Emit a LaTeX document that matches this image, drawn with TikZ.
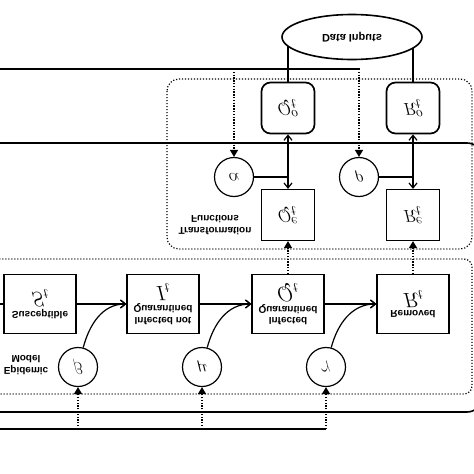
\documentclass[tikz,border=0pt]{standalone}
\usepackage{fontspec}
\setmainfont{Liberation Sans}
\usetikzlibrary{arrows.meta,shapes.geometric,backgrounds}
\tikzset{
  stage/.style={draw, line width=1.2pt, minimum width=72pt, minimum height=59pt, inner sep=1pt, align=center, font=\fontsize{10}{11.5}\selectfont\bfseries},
  estim/.style={draw, line width=1.2pt, minimum width=53pt, minimum height=51pt, font=\fontsize{19}{21}\selectfont},
  param/.style={draw, circle, line width=1.2pt, minimum size=39pt, inner sep=0pt, font=\fontsize{17}{19}\selectfont},
  grouplabel/.style={align=center, font=\fontsize{10}{11.5}\selectfont\bfseries},
  group/.style={line width=1.2pt, dash pattern=on 1.2pt off 1.8pt},
  flow/.style={line width=1.2pt, -{Straight Barb[length=5pt,width=8pt]}},
  twoway/.style={line width=1.2pt, {Straight Barb[length=5pt,width=8pt]}-{Straight Barb[length=5pt,width=8pt]}},
  feed/.style={line width=1.5pt, dash pattern=on 1.3pt off 1.5pt, -{Triangle[length=7pt,width=8pt]}},
}
\newcommand{\bigsym}[1]{{\fontsize{20}{22}\selectfont$#1$}}
\begin{document}
\begin{tikzpicture}[x=1pt, y=1pt, yscale=-1, every node/.append style={transform shape}]
\useasboundingbox (0,0) rectangle (474,474);
\clip (0,0) rectangle (474,474);
% frames
\draw[line width=1.6pt, rounded corners=15pt] (-20,143) rectangle (482,412);
\draw[group, rounded corners=12pt] (167,79) rectangle (472,249);
\draw[group, rounded corners=8pt] (-20,259) rectangle (472,394);
\node[grouplabel] (tflabel) at (215,225) {Transformation\\Functions};
\node[grouplabel] (emlabel) at (26,365) {Epidemic\\Model};

% data and observed series
\node[draw, ellipse, line width=1.6pt, fill=white, minimum width=140pt, minimum height=45pt, font=\fontsize{11}{13}\selectfont\bfseries] (data) at (352,37) {Data Inputs};
\node[estim, rounded corners=9pt, line width=1.7pt] (Qo) at (288,108) {$Q^o_t$};
\node[estim, rounded corners=9pt, line width=1.7pt] (Ro) at (413,108) {$R^o_t$};
\begin{scope}[on background layer]
\draw[line width=1.2pt] (Qo) -- (Qo |- data);
\draw[line width=1.2pt] (Ro) -- (Ro |- data);
\end{scope}

% transformation functions
\node[param] (alpha) at (234,177) {$\alpha$};
\node[param] (rho) at (359,177) {$\rho$};
\node[estim] (Qe) at (288,215) {$Q^e_t$};
\node[estim] (Re) at (413,215) {$R^e_t$};
\draw[twoway] (Qe) -- (Qo);
\draw[twoway] (Re) -- (Ro);
\draw[line width=1.2pt] (alpha) -- (alpha -| Qo);
\draw[line width=1.2pt] (rho) -- (rho -| Ro);

\coordinate (topin) at (-10,69);
\coordinate (topend) at (360,69);
\draw[line width=1.2pt] (topin) -- (topend);
\draw[feed] (topend -| alpha) -- (alpha);
\draw[feed] (topend -| rho) -- (rho);

% epidemic model
\node[stage] (S) at (40,304) {Susceptible\\[2pt]\bigsym{S_t}};
\node[stage] (I) at (163,304) {Infected not\\Quarantined\\[2pt]\bigsym{I_t}};
\node[stage] (Q) at (288,304) {Infected\\Quarantined\\[2pt]\bigsym{Q_t}};
\node[stage] (R) at (413,304) {Removed\\[2pt]\bigsym{R_t}};
\coordinate (sin) at (-10,304);
\draw[line width=1.2pt] (sin) -- (S);
\draw[flow] (S) -- (I);
\draw[flow] (I) -- (Q);
\draw[flow] (Q) -- (R);
\draw[feed] (Q) -- (Qe);
\draw[feed] (R) -- (Re);

\node[param] (beta) at (78,367) {$\beta$};
\node[param] (mu) at (202,367) {$\mu$};
\node[param] (gamma) at (326,367) {$\gamma$};
\draw[flow] (beta) to[out=-75, in=180] (I.west);
\draw[flow] (mu) to[out=-75, in=180] (Q.west);
\draw[flow] (gamma) to[out=-75, in=180] (R.west);

\coordinate (botin) at (-10,429);
\draw[line width=1.2pt] (botin) -- (botin -| gamma);
\draw[feed] (botin -| beta) -- (beta);
\draw[feed] (botin -| mu) -- (mu);
\draw[feed] (botin -| gamma) -- (gamma);
\end{tikzpicture}
\end{document}
